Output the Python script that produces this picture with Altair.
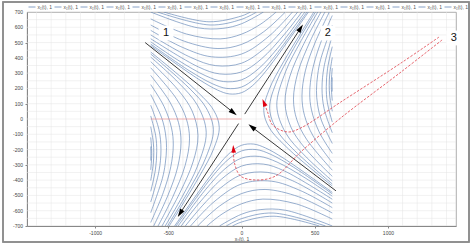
import altair as alt
import pandas as pd

# ---------------- data (data units) ----------------
TOP = [
    [(-620, 480), (-291, 259), (-163, 189), (-83, 164), (0, 172), (76, 219), (163, 309), (457, 700)],
    [(-620, 490), (-355, 315), (-199, 231), (-101, 200), (0, 209), (92, 266), (199, 376), (447, 700)],
    [(-620, 505), (-434, 385), (-243, 282), (-123, 245), (0, 256), (113, 326), (243, 459), (433, 700)],
    [(-620, 525), (-293, 340), (-149, 295), (0, 308), (136, 393), (293, 554), (412, 700)],
    [(-620, 550), (-347, 403), (-176, 349), (0, 365), (161, 465), (268, 568), (384, 700)],
    [(-620, 580), (-404, 469), (-205, 407), (0, 425), (188, 542), (348, 700)],
    [(-620, 615), (-391, 509), (-161, 461), (0, 488), (152, 571), (300, 700)],
    [(-620, 655), (-376, 556), (-146, 524), (0, 555), (133, 622), (237, 700)],
    [(-620, 700), (-301, 597), (-127, 593), (0, 623), (150, 700)],
    [(-574, 700), (-215, 615), (0, 652), (104, 700)],
    [(-531, 700), (-222, 636), (0, 674), (62, 700)],
]
BOTTOM = [
    [(620, -480), (291, -259), (163, -189), (83, -164), (0, -172), (-76, -219), (-163, -309), (-457, -700)],
    [(620, -490), (355, -315), (199, -231), (101, -200), (0, -209), (-92, -266), (-199, -376), (-447, -700)],
    [(620, -505), (434, -385), (243, -282), (123, -245), (0, -256), (-113, -326), (-243, -459), (-433, -700)],
    [(620, -525), (293, -340), (149, -295), (0, -308), (-136, -393), (-293, -554), (-412, -700)],
    [(620, -550), (347, -403), (176, -349), (0, -365), (-161, -465), (-268, -568), (-384, -700)],
    [(620, -580), (404, -469), (205, -407), (0, -425), (-188, -542), (-348, -700)],
    [(620, -615), (391, -509), (161, -461), (0, -488), (-152, -571), (-300, -700)],
    [(620, -655), (376, -556), (146, -524), (0, -555), (-133, -622), (-237, -700)],
    [(620, -700), (301, -597), (127, -593), (0, -623), (-150, -700)],
    [(574, -700), (215, -615), (0, -652), (-104, -700)],
    [(531, -700), (222, -636), (0, -674), (-62, -700)],
]
LEFT = [
    [(-620, 438), (-322, 197), (-190, 57), (-152, -55), (-190, -195), (-287, -374), (-494, -700)],
    [(-620, 425), (-350, 195), (-241, 72), (-192, -70), (-241, -247), (-347, -445), (-505, -700)],
    [(-620, 405), (-437, 244), (-301, 90), (-241, -88), (-301, -309), (-401, -501), (-521, -700)],
    [(-620, 375), (-431, 188), (-337, 52), (-297, -109), (-331, -281), (-419, -479), (-543, -700)],
    [(-620, 335), (-444, 132), (-378, 5), (-355, -130), (-385, -304), (-472, -515), (-570, -700)],
    [(-620, 285), (-489, 111), (-430, -24), (-413, -151), (-436, -315), (-501, -496), (-600, -700)],
    [(-620, 225), (-529, 82), (-478, -59), (-466, -170), (-483, -313), (-534, -481), (-620, -677)],
    [(-620, 160), (-545, 7), (-519, -97), (-512, -187), (-521, -294), (-541, -391), (-620, -613)],
    [(-620, 90), (-564, -69), (-550, -201), (-564, -343), (-620, -543)],
    [(-620, 20), (-586, -110), (-579, -211), (-588, -332), (-620, -473)],
    [(-620, -50), (-603, -150), (-599, -219), (-603, -295), (-620, -403)],
    [(-620, -120), (-613, -224), (-620, -333)],
    [(-620, -180), (-619, -226), (-620, -272)],
]
RIGHT = [
    [(620, -438), (322, -197), (190, -57), (152, 55), (190, 195), (287, 374), (494, 700)],
    [(620, -425), (350, -195), (241, -72), (192, 70), (241, 247), (347, 445), (505, 700)],
    [(620, -405), (437, -244), (301, -90), (241, 88), (301, 309), (401, 501), (521, 700)],
    [(620, -375), (431, -188), (337, -52), (297, 109), (331, 281), (419, 479), (543, 700)],
    [(620, -335), (444, -132), (378, -5), (355, 130), (385, 304), (472, 515), (570, 700)],
    [(620, -285), (489, -111), (430, 24), (413, 151), (436, 315), (501, 496), (600, 700)],
    [(620, -225), (529, -82), (478, 59), (466, 170), (483, 313), (534, 481), (620, 677)],
    [(620, -160), (545, -7), (519, 97), (512, 187), (521, 294), (541, 391), (620, 613)],
    [(620, -90), (564, 69), (550, 201), (564, 343), (620, 543)],
    [(620, -20), (586, 110), (579, 211), (588, 332), (620, 473)],
    [(620, 50), (603, 150), (599, 219), (603, 295), (620, 403)],
    [(620, 120), (613, 224), (620, 333)],
    [(620, 180), (619, 226), (620, 272)],
]

# separatrices (black) : tail -> head
STABLE_UL = [(-658, 500), (-55, 42)]
STABLE_LR = [(645, -470), (70, -52)]
UNSTABLE_UR = [(22, 32), (404, 595)]
UNSTABLE_LL = [(-20, -30), (-420, -618)]
BLACK_ARROW_ANGLES = [128, 308, 33, 213]

# red dashed trajectories
RED_A = [(1349, 536), (1089, 366), (678, 111), (404, -59), (315, -85), (212, -39), (178, 46), (160, 92)]
RED_B = [(1370, 517), (1089, 307), (678, 7), (404, -216), (233, -373), (96, -399), (-7, -373), (-48, -288), (-55, -215)]
RED_ARROW_ANGLES = [338, 356]
RED_ARROW_POS = [(153, 108), (-55, -195)]

ZERO_LINE = [(-620, 0), (0, 0)]

LABEL_TEXT = ["1", "2", "3"]
LABEL_X = [-515, 590, 1450]
LABEL_Y = [562, 562, 530]

X_TICKS = [-1000, -500, 0, 500, 1000]
Y_TICKS = [700, 600, 500, 400, 300, 200, 100, 0, -100, -200, -300, -400, -500, -600, -700]
X_GRID = list(range(-1400, 1401, 100))
Y_GRID = list(range(-650, 651, 50))

N_LEGEND = 17
LEGEND_LABEL = "x\u2081(t), 1"
X_TITLE = "x\u2081(t), 1"

X_DOMAIN = [-1465, 1465]
Y_DOMAIN = [-700, 700]

# ---------------- tables ----------------
rows = []
cid = 0
for group in (TOP, BOTTOM, LEFT, RIGHT):
    for curve in group:
        for k, (x, y) in enumerate(curve):
            rows.append({"cid": cid, "k": k, "x": x, "y": y, "s": f"s{cid % N_LEGEND:02d}"})
        cid += 1
stream_df = pd.DataFrame(rows)
series = [f"s{i:02d}" for i in range(N_LEGEND)]

seg_rows = []
for sid, seg in enumerate((STABLE_UL, STABLE_LR, UNSTABLE_UR, UNSTABLE_LL)):
    for k, (x, y) in enumerate(seg):
        seg_rows.append({"sid": sid, "k": k, "x": x, "y": y})
seg_df = pd.DataFrame(seg_rows)
arrow_df = pd.DataFrame({
    "x": [s[1][0] for s in (STABLE_UL, STABLE_LR, UNSTABLE_UR, UNSTABLE_LL)],
    "y": [s[1][1] for s in (STABLE_UL, STABLE_LR, UNSTABLE_UR, UNSTABLE_LL)],
    "a": BLACK_ARROW_ANGLES,
})

red_rows = []
for rid, cur in enumerate((RED_A, RED_B)):
    for k, (x, y) in enumerate(cur):
        red_rows.append({"rid": rid, "k": k, "x": x, "y": y})
red_df = pd.DataFrame(red_rows)
red_arrow_df = pd.DataFrame({"x": [p[0] for p in RED_ARROW_POS], "y": [p[1] for p in RED_ARROW_POS], "a": RED_ARROW_ANGLES})

zero_df = pd.DataFrame({"x": [p[0] for p in ZERO_LINE], "y": [p[1] for p in ZERO_LINE]})
lab_df = pd.DataFrame({"t": LABEL_TEXT, "x": LABEL_X, "y": LABEL_Y})
xgrid_df = pd.DataFrame({"x": X_GRID})
ygrid_df = pd.DataFrame({"y": Y_GRID})
ytick_df = pd.DataFrame({"y": Y_TICKS, "t": [str(v) for v in Y_TICKS]})

# ---------------- scales / axes ----------------
xs = alt.Scale(domain=X_DOMAIN, nice=False, zero=False)
ys = alt.Scale(domain=Y_DOMAIN, nice=False, zero=False)
common_axis = dict(grid=False, tickSize=2, tickColor="#888",
                   domainColor="#888", labelFontSize=5, labelColor="#444", labelPadding=2,
                   labelFont="Liberation Sans", labelOverlap=False, labelFlush=False)
xaxis = alt.Axis(values=X_TICKS, labelExpr="'' + datum.value",
                 title=X_TITLE, titleFontSize=5, titleFontWeight="normal", titlePadding=1,
                 titleColor="#444", titleFont="Liberation Sans", **common_axis)
yaxis = alt.Axis(values=Y_TICKS, labels=False, title=None, grid=False, tickSize=2,
                 tickColor="#888", domainColor="#888")

X = alt.X("x:Q", scale=xs, axis=xaxis)
Y = alt.Y("y:Q", scale=ys, axis=yaxis)
Xn = alt.X("x:Q", scale=xs)
Yn = alt.Y("y:Q", scale=ys)

ARROW = "M0,-1L0.6,1L-0.6,1Z"

xgrid = alt.Chart(xgrid_df).mark_rule(color="#e4e4e4", strokeWidth=0.5).encode(x=Xn)
ygrid = alt.Chart(ygrid_df).mark_rule(color="#e4e4e4", strokeWidth=0.5).encode(y=Y)
ylabels = alt.Chart(ytick_df).mark_text(align="right", baseline="middle", fontSize=5, color="#444",
                                        font="Liberation Sans").encode(x=alt.value(-4), y=Yn, text="t:N")

stream = alt.Chart(stream_df).mark_line(interpolate="catmull-rom", strokeWidth=0.7, opacity=0.9, clip=True).encode(
    x=X, y=Yn, detail="cid:N", order="k:Q",
    color=alt.Color("s:N", scale=alt.Scale(domain=series, range=["#5b80b2"] * N_LEGEND),
                    legend=alt.Legend(orient="none", legendX=1, legendY=-9, direction="horizontal",
                                      columns=N_LEGEND, symbolType="stroke", symbolSize=49,
                                      symbolStrokeWidth=0.8, symbolStrokeColor="#666",
                                      labelFontSize=5, labelColor="#555", labelFont="Liberation Sans",
                                      labelExpr="'" + LEGEND_LABEL + "'", title=None,
                                      columnPadding=0, labelOffset=1.5, padding=0, rowPadding=0)),
)

zero = alt.Chart(zero_df).mark_line(color="#ee8888", strokeWidth=0.6).encode(x=Xn, y=Yn)

segs = alt.Chart(seg_df).mark_line(color="#222", strokeWidth=0.9, clip=True).encode(
    x=Xn, y=Yn, detail="sid:N", order="k:Q")
arrows = alt.Chart(arrow_df).mark_point(shape=ARROW, filled=True, size=70, color="#000", opacity=1).encode(
    x=Xn, y=Yn, angle=alt.Angle("a:Q", scale=None))

red = alt.Chart(red_df).mark_line(interpolate="catmull-rom", color="#e0404a", strokeWidth=0.8,
                                  strokeDash=[2.5, 1.5]).encode(x=Xn, y=Yn, detail="rid:N", order="k:Q")
red_arrows = alt.Chart(red_arrow_df).mark_point(shape=ARROW, filled=True, size=60, color="#e00010", opacity=1).encode(
    x=Xn, y=Yn, angle=alt.Angle("a:Q", scale=None))

lab_bg = alt.Chart(lab_df).mark_point(shape="square", filled=True, size=220, color="white", opacity=1).encode(x=Xn, y=Yn)
labs = alt.Chart(lab_df).mark_text(fontSize=11, font="Liberation Sans", color="#111").encode(x=Xn, y=Yn, text="t:N")

frame = alt.Chart(zero_df).mark_rect(fill=None, stroke="#8a8a8a", strokeWidth=1.5).encode(
    x=alt.value(-24), x2=alt.value(442), y=alt.value(-10), y2=alt.value(230))

chart = alt.layer(xgrid, ygrid, stream, zero, segs, arrows, red, red_arrows, lab_bg, labs, ylabels, frame).properties(
    width=429, height=214,
    autosize=alt.AutoSizeParams(type="none"),
    padding={"left": 27, "top": 12, "right": 18, "bottom": 19},
    background="white",
).configure_view(stroke="#9a9a9a", strokeWidth=0.8)

chart.save("out.html", embed_options={"renderer": "svg", "actions": False})
